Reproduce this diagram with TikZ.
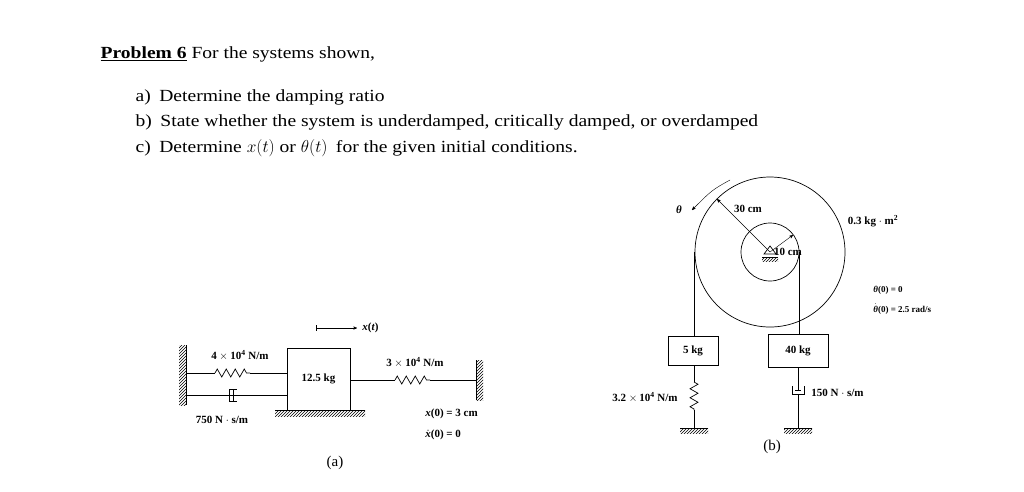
\documentclass[tikz,border=0pt]{standalone}
\usepackage{amsmath}
\usepackage{fontspec}
\setmainfont{Liberation Serif}
\newfontfamily\headfont[FakeStretch=1.15]{Liberation Serif}
\usetikzlibrary{arrows,positioning,decorations.pathmorphing,patterns}
\tikzset{
  >=stealth',
  lbl/.style={font=\fontsize{11}{13}\selectfont\bfseries, inner sep=1pt},
  head/.style={font=\fontsize{17}{20}\selectfont\headfont, anchor=base west},
  massbox/.style={draw, thick, inner sep=0pt},
  rope/.style={thin},
  spring/.style={decorate, decoration={zigzag, segment length=9pt, amplitude=4pt}},
  hatch/.style={pattern=north east lines, draw=none}
}
\begin{document}
\begin{tikzpicture}[x=1pt,y=-1pt,line width=0.7pt]
  \useasboundingbox[fill=white] (0,0) rectangle (1024,491);

  % Problem statement.
  \node[head] (title) at (97,58) {\textbf{\underline{Problem 6}} For the systems shown,};
  \node[head] (qa) at (132,101) {a)\enspace Determine the damping ratio};
  \node[head] (qb) at (132,126) {b)\enspace State whether the system is underdamped, critically damped, or overdamped};
  \node[head] (qc) at (132,152) {c)\enspace Determine $x(t)$ or $\theta(t)$\enspace for the given initial conditions.};

  % (a) walls and mass.
  \fill[hatch] (179,345) rectangle (186,405);
  \draw (186,345) -- (186,405);
  \fill[hatch] (476,360) rectangle (483,400);
  \draw (476,360) -- (476,400);
  \node[massbox, minimum width=63pt, minimum height=62pt] (m1) at (318.5,379) {};
  \node[lbl] (m1l) at (m1) {12.5 kg};
  \fill[hatch] (275,410) rectangle (365,416);
  \draw (275,410) -- (365,410);

  % (a) springs and damper.
  \coordinate (ka) at (186,373);
  \coordinate (kb) at (287,373);
  \draw (ka) -- (215,373);
  \draw[spring] (215,373) -- (250,373);
  \draw (250,373) -- (kb);
  \coordinate (ca) at (186,395);
  \coordinate (cb) at (287,395);
  \draw (ca) -- (233,395);
  \draw (229,389) -- (237,389) (229,389) -- (229,401) -- (237,401);
  \draw (233,389) -- (233,401) (233,395) -- (cb);
  \coordinate (kc) at (350,380);
  \coordinate (kd) at (476,380);
  \draw (kc) -- (395,380);
  \draw[spring] (395,380) -- (430,380);
  \draw (430,380) -- (kd);

  % (a) labels.
  \node[lbl] (k1l) at (240,355) {$\mathbf{4\times10^4}$ N/m};
  \node[lbl] (c1l) at (222,420) {750 N $\cdot$ s/m};
  \node[lbl] (k2l) at (415,362) {$\mathbf{3\times10^4}$ N/m};
  \coordinate (xa) at (316,328);
  \coordinate (xb) at (357,328);
  \draw[|->, thin] (xa) -- (xb);
  \node[lbl, right=4pt of xb] (xl) {\textit{x}(\textit{t})};
  \node[lbl, anchor=west] (ic1) at (424,414) {\textit{x}(0) = 3 cm};
  \node[lbl, anchor=west] (ic2) at (424,435) {$\dot{\textit{x}}$(0) = 0};
  \node[font=\fontsize{15}{18}\selectfont] (capa) at (335,463) {(a)};

  % (b) pulley.
  \coordinate (o) at (770,252);
  \draw (o) circle (75);
  \draw (o) circle (29);
  \draw (764,254) -- (770,246) -- (776,254) -- cycle;
  \fill[hatch] (762,257) rectangle (778,261);
  \draw (762,257) -- (778,257);
  \draw[->, thin] (o) -- (717,199);
  \draw[->, thin] (o) -- (793,235);
  \node[lbl] (r1l) at (748,209) {30 cm};
  \node[lbl] (r2l) at (788,252) {10 cm};
  \draw[->, thin] (730,180) .. controls (712,190) .. (692,210);
  \node[lbl] (thl) at (679,210) {\textit{θ}};
  \node[lbl] (jl) at (873,221) {0.3 kg $\cdot$ m$^{\mathbf{2}}$};
  \node[lbl, anchor=west, font=\fontsize{9}{11}\selectfont\bfseries] (ic3) at (872,290) {\textit{θ}(0) = 0};
  \node[lbl, anchor=west, font=\fontsize{9}{11}\selectfont\bfseries] (ic4) at (872,309) {$\dot{\textit{θ}}$(0) = 2.5 rad/s};

  % (b) masses.
  \node[massbox, minimum width=50pt, minimum height=29pt] (m2) at (693,350.5) {};
  \node[lbl] (m2l) at (m2) {5 kg};
  \node[massbox, minimum width=60pt, minimum height=33pt] (m3) at (798,350.5) {};
  \node[lbl] (m3l) at (m3) {40 kg};
  \draw[rope] (694,252) -- (m2.north -| 694,0);
  \draw[rope] (799,252) -- (m3.north -| 799,0);

  % (b) spring and damper.
  \coordinate (g1) at (694,428);
  \coordinate (g2) at (798,428);
  \draw (m2.south -| g1) -- (694,382);
  \draw[spring] (694,382) -- (694,410);
  \draw (694,410) -- (g1);
  \fill[hatch] (680,428) rectangle (708,433);
  \draw (680,428) -- (708,428);
  \draw (m3.south -| g2) -- (798,390);
  \draw (792,386) -- (792,394) -- (804,394) -- (804,386);
  \draw (795,390) -- (801,390) (798,394) -- (g2);
  \fill[hatch] (784,428) rectangle (812,433);
  \draw (784,428) -- (812,428);
  \node[lbl] (k3l) at (645,397) {3.2 $\mathbf{\times\,10^4}$ N/m};
  \node[lbl, anchor=west] (c2l) at (810,393) {150 N $\cdot$ s/m};
  \node[font=\fontsize{15}{18}\selectfont] (capb) at (772,447) {(b)};
\end{tikzpicture}
\end{document}
